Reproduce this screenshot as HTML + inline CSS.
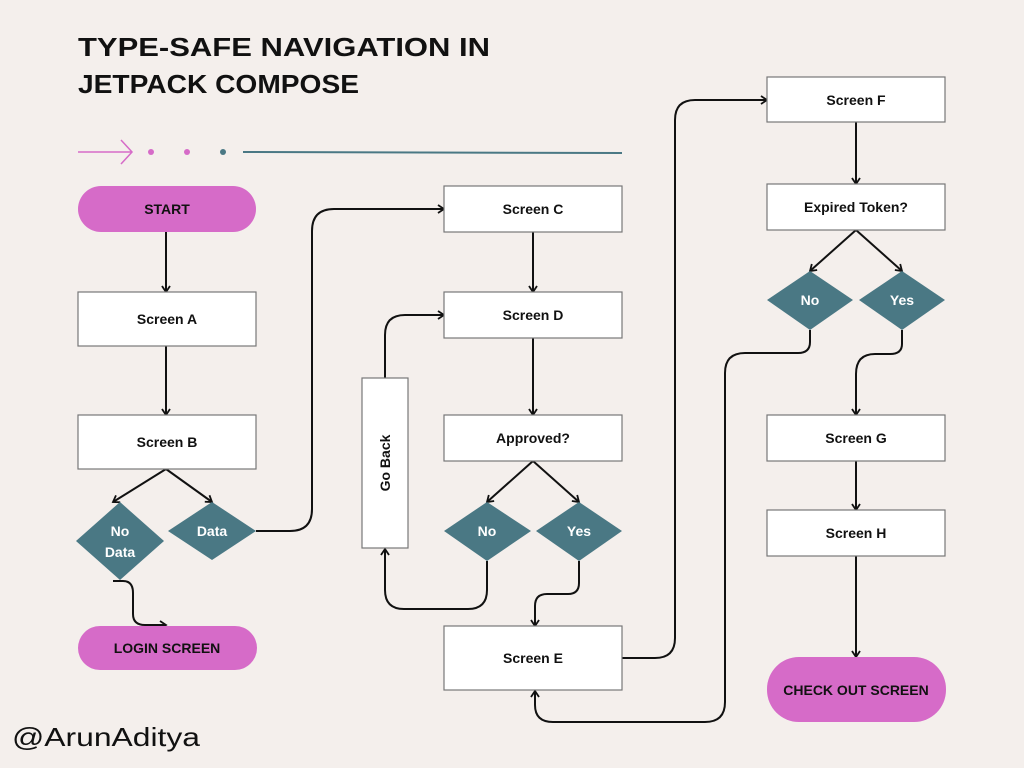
<!DOCTYPE html>
<html><head><meta charset="utf-8"><style>
body{margin:0;background:#f4efec;}
svg{display:block;font-family:"Liberation Sans",sans-serif;}
.b{fill:#fff;stroke:#777;stroke-width:1.2}
.t{font-size:14px;font-weight:bold;fill:#111;text-anchor:middle}
.w{font-size:14px;font-weight:bold;fill:#fff;text-anchor:middle}
.c{fill:none;stroke:#111;stroke-width:2}
.d{fill:#4a7884}
</style></head><body>
<svg width="1024" height="768" viewBox="0 0 1024 768">
<defs><marker id="a" markerWidth="10" markerHeight="10" refX="8" refY="5" orient="auto" markerUnits="userSpaceOnUse"><path d="M2,1 L8,5 L2,9" fill="none" stroke="#111" stroke-width="1.8"/></marker></defs>
<rect width="1024" height="768" fill="#f4efec"/>
<text x="78" y="56" font-size="26" font-weight="900" fill="#111" textLength="412" lengthAdjust="spacingAndGlyphs">TYPE-SAFE NAVIGATION IN</text>
<text x="78" y="93" font-size="26" font-weight="900" fill="#111" textLength="281" lengthAdjust="spacingAndGlyphs">JETPACK COMPOSE</text>
<path d="M78,152 H132 M121,140 L132,152 L121,164" fill="none" stroke="#d66bc8" stroke-width="1.5"/>
<circle cx="151" cy="152" r="3" fill="#d66bc8"/><circle cx="187" cy="152" r="3" fill="#d66bc8"/><circle cx="223" cy="152" r="3" fill="#4a7884"/>
<line x1="243" y1="152" x2="622" y2="153" stroke="#4a7884" stroke-width="2"/>

<!-- connectors -->
<g class="c">
<path d="M166,232 V292" marker-end="url(#a)"/>
<path d="M166,346 V415" marker-end="url(#a)"/>
<path d="M166,469 L113,502" marker-end="url(#a)"/>
<path d="M166,469 L212,502" marker-end="url(#a)"/>
<path d="M113,581 H123 Q133,581 133,593 V614 Q133,625 145,625 H166" marker-end="url(#a)"/>
<path d="M256,531 H290 Q312,531 312,509 V231 Q312,209 334,209 H444" marker-end="url(#a)"/>
<path d="M533,232 V292" marker-end="url(#a)"/>
<path d="M533,338 V415" marker-end="url(#a)"/>
<path d="M533,461 L487,502" marker-end="url(#a)"/>
<path d="M533,461 L579,502" marker-end="url(#a)"/>
<path d="M487,561 V590 Q487,609 468,609 H404 Q385,609 385,590 V549" marker-end="url(#a)"/>
<path d="M385,378 V335 Q385,315 405,315 H444" marker-end="url(#a)"/>
<path d="M579,561 V583 Q579,594 568,594 H547 Q535,594 535,606 V626" marker-end="url(#a)"/>
<path d="M622,658 H655 Q675,658 675,638 V120 Q675,100 695,100 H767" marker-end="url(#a)"/>
<path d="M856,122 V184" marker-end="url(#a)"/>
<path d="M856,230 L810,271" marker-end="url(#a)"/>
<path d="M856,230 L902,271" marker-end="url(#a)"/>
<path d="M810,330 V342 Q810,353 798,353 H745 Q725,353 725,373 V702 Q725,722 705,722 H553 Q535,722 535,705 V691" marker-end="url(#a)"/>
<path d="M902,330 V344 Q902,354 890,354 H875 Q856,354 856,374 V415" marker-end="url(#a)"/>
<path d="M856,461 V510" marker-end="url(#a)"/>
<path d="M856,556 V657" marker-end="url(#a)"/>
</g>

<!-- pills -->
<rect x="78" y="186" width="178" height="46" rx="23" fill="#d66bc8"/><text class="t" x="167" y="214">START</text>
<rect x="78" y="626" width="179" height="44" rx="22" fill="#d66bc8"/><text class="t" x="167" y="653">LOGIN SCREEN</text>
<rect x="767" y="657" width="179" height="65" rx="32" fill="#d66bc8"/><text class="t" x="856" y="695">CHECK OUT SCREEN</text>

<!-- boxes -->
<rect class="b" x="78" y="292" width="178" height="54"/><text class="t" x="167" y="324">Screen A</text>
<rect class="b" x="78" y="415" width="178" height="54"/><text class="t" x="167" y="447">Screen B</text>
<rect class="b" x="444" y="186" width="178" height="46"/><text class="t" x="533" y="214">Screen C</text>
<rect class="b" x="444" y="292" width="178" height="46"/><text class="t" x="533" y="320">Screen D</text>
<rect class="b" x="444" y="415" width="178" height="46"/><text class="t" x="533" y="443">Approved?</text>
<rect class="b" x="444" y="626" width="178" height="64"/><text class="t" x="533" y="663">Screen E</text>
<rect class="b" x="362" y="378" width="46" height="170"/><text class="t" transform="translate(390,463) rotate(-90)">Go Back</text>
<rect class="b" x="767" y="77" width="178" height="45"/><text class="t" x="856" y="105">Screen F</text>
<rect class="b" x="767" y="184" width="178" height="46"/><text class="t" x="856" y="212">Expired Token?</text>
<rect class="b" x="767" y="415" width="178" height="46"/><text class="t" x="856" y="443">Screen G</text>
<rect class="b" x="767" y="510" width="178" height="46"/><text class="t" x="856" y="538">Screen H</text>

<!-- diamonds -->
<polygon class="d" points="120,502 164,541 120,580 76,541"/><text class="w" x="120" y="536">No</text><text class="w" x="120" y="557">Data</text>
<polygon class="d" points="212,502 256,531 212,560 168,531"/><text class="w" x="212" y="536">Data</text>
<polygon class="d" points="487,502 531,531 487,561 444,531"/><text class="w" x="487" y="536">No</text>
<polygon class="d" points="579,502 622,531 579,561 536,531"/><text class="w" x="579" y="536">Yes</text>
<polygon class="d" points="810,271 853,300 810,330 767,300"/><text class="w" x="810" y="305">No</text>
<polygon class="d" points="902,271 945,300 902,330 859,300"/><text class="w" x="902" y="305">Yes</text>

<text x="12" y="746" font-size="26" fill="#111" textLength="188" lengthAdjust="spacingAndGlyphs">@ArunAditya</text>
</svg>
</body></html>
